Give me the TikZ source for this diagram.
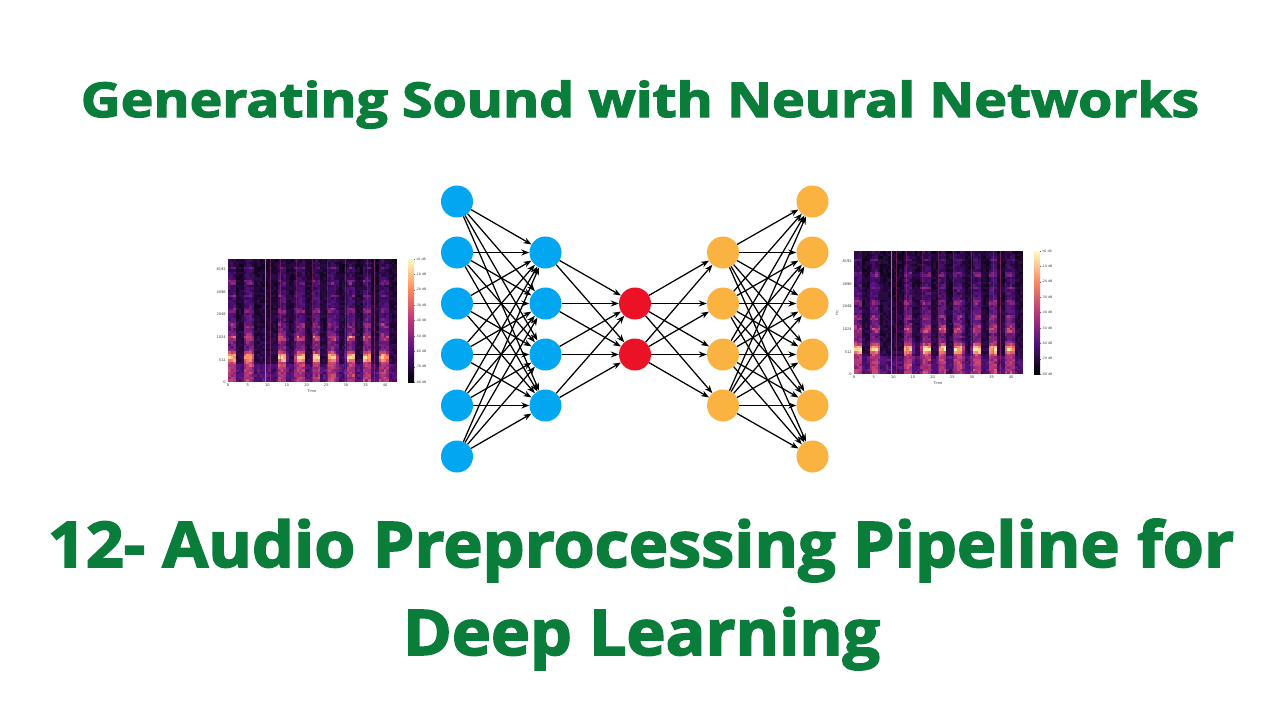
\documentclass[tikz,border=0pt]{standalone}
\usepackage{graphicx}
\usepackage{fontspec}
\setmainfont{Open Sans}
\newfontfamily\titlefont{Open Sans}[BoldFeatures={FakeBold=2.5}]
\newfontfamily\axfont{DejaVu Sans}
\usetikzlibrary{arrows.meta}
\definecolor{titlegreen}{RGB}{10,125,58}
\definecolor{nblue}{RGB}{3,166,240}
\definecolor{nred}{RGB}{235,18,40}
\definecolor{norange}{RGB}{250,178,64}
\definecolor{mA}{RGB}{0,0,4}
\definecolor{mB}{RGB}{81,18,124}
\definecolor{mC}{RGB}{183,55,121}
\definecolor{mD}{RGB}{252,137,97}
\definecolor{mE}{RGB}{252,253,191}
\tikzset{
  neuron/.style={circle, minimum size=32pt, inner sep=0pt, draw=none},
  bluen/.style={neuron, fill=nblue},
  redn/.style={neuron, fill=nred},
  orangen/.style={neuron, fill=norange},
  conn/.style={-{Stealth[length=8pt,width=6pt]}, line width=1.25pt, black},
  titletext/.style={text=titlegreen, anchor=base, inner sep=0pt},
  ticklab/.style={font=\axfont\fontsize{3.6}{3.6}\selectfont, text=black!75, inner sep=0.6pt},
  cblab/.style={font=\axfont\fontsize{3.2}{3.2}\selectfont, text=black!75, inner sep=0.4pt, anchor=west},
}
\newcommand\drawspec[4]{%
\begin{scope}[shift={(#1,#2)}]
  \pgfmathsetseed{#3}
  \begin{scope}
    \clip (0,0) rectangle (169,123);
    \foreach \i in {0,...,63}{
      \foreach \j in {0,...,47}{
        \pgfmathsetmacro\tm{(\i+0.5)*43/64}
        \pgfmathsetmacro\yf{1-(\j+0.5)/48}
        \pgfmathsetmacro\sv{max(0,min(1,2.2*(sin(\tm*84)+0.25)))*((\tm<8.6)+(\tm>12.6))}
        \pgfmathsetmacro\vv{min(0.96, 0.03+0.11*rnd+0.06*(1-\yf)+(\yf<0.15)*(0.05+0.1*rnd)+\sv*((0.18+0.16*rnd)*(1-0.75*\yf)+(0.45+0.2*rnd)*exp(max(-9,0-(((\yf-0.2)/0.04)^2)))+0.28*rnd*exp(max(-9,0-(((\yf-0.37)/0.03)^2)))+(\yf>0.25)*0.2*(cos(\yf*3100)>0.55)*rnd))}
        \pgfmathtruncatemacro\R{\vv<0.25 ? 324*\vv : (\vv<0.5 ? 81+408*(\vv-0.25) : (\vv<0.75 ? 183+276*(\vv-0.5) : 252))}
        \pgfmathtruncatemacro\G{\vv<0.25 ? 72*\vv : (\vv<0.5 ? 18+148*(\vv-0.25) : (\vv<0.75 ? 55+328*(\vv-0.5) : 137+464*(\vv-0.75)))}
        \pgfmathtruncatemacro\B{\vv<0.25 ? 4+480*\vv : (\vv<0.5 ? 124-12*(\vv-0.25) : (\vv<0.75 ? 121-96*(\vv-0.5) : 97+376*(\vv-0.75)))}
        \definecolor{cellc}{RGB}{\R,\G,\B}
        \fill[cellc] ({\i*2.6406},{\j*2.5625}) rectangle ++(2.9,2.8);
      }
    }
    \foreach \st/\op in {9.5/0.9,10.8/0.5,13.3/0.45,17.4/0.4,21.5/0.45,25.4/0.45,29.9/0.5,35.5/0.4,37.3/0.55}{
      \fill[mC, opacity=\op] ({\st*3.93-0.4},0) rectangle ++(0.9,123);
    }
    \fill[mD, opacity=0.6] ({9.5*3.93-0.3},0) rectangle ++(0.6,123);
  \end{scope}
  % axis ticks
  \foreach \k in {0,...,8}{
    \pgfmathtruncatemacro\lab{5*\k}
    \node[ticklab, anchor=north] (sx#4\k) at ({\k*5*3.93},124.5) {\lab};
  }
  \node[ticklab, anchor=north] (st#4) at (84,130) {Time};
  \foreach \lab/\yy [count=\k] in {8192/10,4096/33,2048/55,1024/78,512/101,0/123}{
    \node[ticklab, anchor=east] (sy#4\k) at (-1.5,\yy) {\lab};
  }
  % colour bar
  \shade[bottom color=mA, top color=mB] (180,123) rectangle (186,92.25);
  \shade[bottom color=mB, top color=mC] (180,92.25) rectangle (186,61.5);
  \shade[bottom color=mC, top color=mD] (180,61.5) rectangle (186,30.75);
  \shade[bottom color=mD, top color=mE] (180,30.75) rectangle (186,0);
  \foreach \k in {0,...,8}{
    \draw[black!60, line width=0.2pt] (186,{\k*123/8}) -- ++(1,0);
    \node[cblab] (cb#4\k) at (187.2,{\k*123/8}) {\ifnum\k=0 +0\else -\k0\fi\ dB};
  }
\end{scope}}
\begin{document}
\begin{tikzpicture}[x=1pt,y=-1pt]
  \useasboundingbox (0,0) rectangle (1280,720);
  \fill[white] (0,0) rectangle (1280,720);

  % titles
  \node[titletext, font=\titlefont\bfseries\fontsize{48}{48}\selectfont] (title) at (640,117) {\scalebox{1.15}[1]{Generating Sound with Neural Networks}};
  \node[titletext, font=\titlefont\bfseries\fontsize{63}{63}\selectfont] (sub1) at (641,567) {\scalebox{1.055}[1]{12- Audio Preprocessing Pipeline for}};
  \node[titletext, font=\titlefont\bfseries\fontsize{63}{63}\selectfont] (sub2) at (641.5,655) {\scalebox{1.05}[1]{Deep Learning}};

  % spectrograms
  \drawspec{228}{259}{7}{L}
  \drawspec{854}{251}{11}{R}
  \node[ticklab, rotate=90] (hz) at (837,313) {Hz};

  % network nodes
  \foreach \k in {1,...,6}{
    \node[bluen] (a\k) at (457,{201.5+51*(\k-1)}) {};
    \node[orangen] (e\k) at (812.5,{201.5+51*(\k-1)}) {};
  }
  \foreach \k in {1,...,4}{
    \node[bluen] (b\k) at (545.5,{252.5+51*(\k-1)}) {};
    \node[orangen] (d\k) at (723,{252.5+51*(\k-1)}) {};
  }
  \foreach \k in {1,2}{
    \node[redn] (c\k) at (635,{303.5+51*(\k-1)}) {};
  }

  % connections
  \foreach \p in {1,...,6}{\foreach \q in {1,...,4}{\draw[conn] (a\p) -- (b\q);}}
  \foreach \p in {1,...,4}{\foreach \q in {1,2}{\draw[conn] (b\p) -- (c\q);}}
  \foreach \p in {1,2}{\foreach \q in {1,...,4}{\draw[conn] (c\p) -- (d\q);}}
  \foreach \p in {1,...,4}{\foreach \q in {1,...,6}{\draw[conn] (d\p) -- (e\q);}}
\end{tikzpicture}
\end{document}
